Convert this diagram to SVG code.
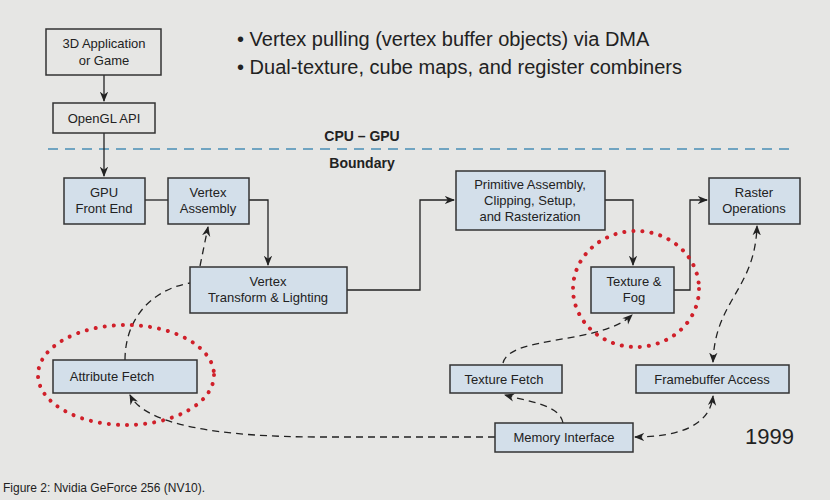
<svg xmlns="http://www.w3.org/2000/svg" width="830" height="500" viewBox="0 0 830 500">
<style>
text{font-family:"Liberation Sans",Arial,sans-serif;fill:#222}
.n{font-size:13px;text-anchor:middle}
.w{fill:#e6e6e4;stroke:#333;stroke-width:1.5}
.b{fill:#d3dfea;stroke:#333;stroke-width:1.5}
.s{fill:none;stroke:#222;stroke-width:1.3}
.d{fill:none;stroke:#222;stroke-width:1.3;stroke-dasharray:7,5}
.r{fill:none;stroke:#d0202a;stroke-width:4;stroke-dasharray:0.1,9;stroke-linecap:round}
</style>
<defs><marker id="a" viewBox="0 0 10 10" refX="9" refY="5" markerWidth="8" markerHeight="8" orient="auto-start-reverse"><path d="M0,1L10,5L0,9L3,5z" fill="#222"/></marker></defs>
<rect width="830" height="500" fill="#e6e6e4"/>
<text x="237" y="46" font-size="20">• Vertex pulling (vertex buffer objects) via DMA</text>
<text x="237" y="74" font-size="20">• Dual-texture, cube maps, and register combiners</text>
<text x="362" y="141" font-size="14" font-weight="bold" text-anchor="middle">CPU – GPU</text>
<text x="362" y="168" font-size="14" font-weight="bold" text-anchor="middle">Boundary</text>
<line x1="48" y1="149" x2="796" y2="149" stroke="#4a8fb5" stroke-width="1.5" stroke-dasharray="10,7"/>
<text x="745" y="444" font-size="22">1999</text>
<text x="3" y="492" font-size="12">Figure 2: Nvidia GeForce 256 (NV10).</text>
<g id="connectors">
<path class="s" d="M104,75V101" marker-end="url(#a)"/>
<path class="s" d="M104,133V176" marker-end="url(#a)"/>
<path class="s" d="M145,200H168"/>
<path class="s" d="M249,200H268V265" marker-end="url(#a)"/>
<path class="s" d="M347,290H420V200H454" marker-end="url(#a)"/>
<path class="s" d="M605,200H633V265" marker-end="url(#a)"/>
<path class="s" d="M674,290H690V200H707" marker-end="url(#a)"/>
<path class="d" d="M125,360C125,320 150,290 190,283"/>
<path class="d" d="M200,266L208,227" marker-end="url(#a)"/>
<path class="d" d="M495,437H320C220,437 145,425 130,395" marker-end="url(#a)"/>
<path class="d" d="M563,423C560,405 530,402 505,395" marker-end="url(#a)"/>
<path class="d" d="M503,363C510,335 600,345 632,315" marker-end="url(#a)"/>
<path class="d" d="M635,437C680,437 710,425 713,396" marker-end="url(#a)" marker-start="url(#a)"/>
<path class="d" d="M713,362C715,300 755,290 757,226" marker-end="url(#a)" marker-start="url(#a)"/>
</g>
<g id="app"><rect class="w" x="46" y="29" width="115" height="46"/><text class="n" x="104" y="48">3D Application</text><text class="n" x="104" y="65">or Game</text></g>
<g id="opengl"><rect class="w" x="53" y="103" width="102" height="30"/><text class="n" x="104" y="123">OpenGL API</text></g>
<g id="frontend"><rect class="b" x="64" y="178" width="81" height="46"/><text class="n" x="104" y="197">GPU</text><text class="n" x="104" y="213">Front End</text></g>
<g id="vassembly"><rect class="b" x="168" y="178" width="81" height="46"/><text class="n" x="208" y="197">Vertex</text><text class="n" x="208" y="213">Assembly</text></g>
<g id="vtl"><rect class="b" x="190" y="267" width="157" height="46"/><text class="n" x="268" y="286">Vertex</text><text class="n" x="268" y="302">Transform &amp; Lighting</text></g>
<g id="prim"><rect class="b" x="456" y="171" width="149" height="59"/><text class="n" x="530" y="189">Primitive Assembly,</text><text class="n" x="530" y="205">Clipping, Setup,</text><text class="n" x="530" y="221">and Rasterization</text></g>
<g id="texfog"><rect class="b" x="591" y="267" width="83" height="46"/><text class="n" x="634" y="286">Texture &amp;</text><text class="n" x="634" y="302">Fog</text></g>
<g id="rop"><rect class="b" x="709" y="178" width="91" height="46"/><text class="n" x="754" y="197">Raster</text><text class="n" x="754" y="213">Operations</text></g>
<g id="attr"><rect class="b" x="53" y="360" width="144" height="33"/><text class="n" x="112" y="381">Attribute Fetch</text></g>
<g id="texfetch"><rect class="b" x="450" y="365" width="112" height="28"/><text class="n" x="504" y="384">Texture Fetch</text></g>
<g id="fb"><rect class="b" x="636" y="365" width="153" height="28"/><text class="n" x="712" y="384">Framebuffer Access</text></g>
<g id="mem"><rect class="b" x="495" y="423" width="138" height="29"/><text class="n" x="564" y="442">Memory Interface</text></g>
<ellipse class="r" cx="126" cy="375" rx="88" ry="50"/>
<ellipse class="r" cx="636" cy="289" rx="63" ry="58"/>
</svg>
